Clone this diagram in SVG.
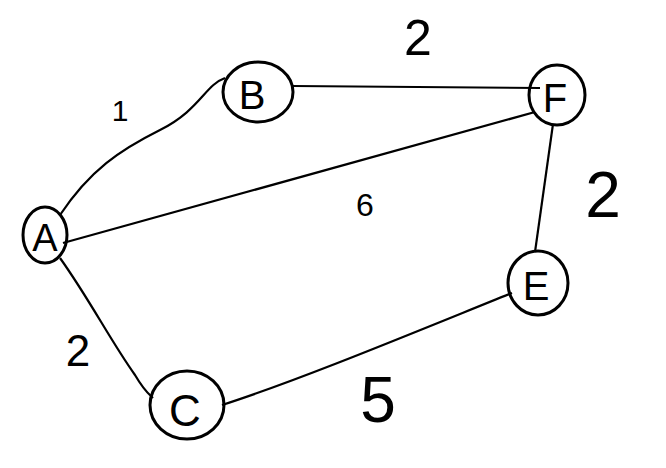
<svg xmlns="http://www.w3.org/2000/svg" width="666" height="468" viewBox="0 0 666 468">
<style>
.n{fill:none;stroke:#000;stroke-width:3}
.e{fill:none;stroke:#000;stroke-width:2.2}
text{font-family:"Liberation Sans",sans-serif;fill:#000;text-anchor:middle;dominant-baseline:central}
</style>
<rect width="666" height="468" fill="#fff"/>
<g id="edges">
<path class="e" d="M293,86 L540,88"/>
<path class="e" d="M63,243 L535,112"/>
<path class="e" d="M553,124 L535,252"/>
<path class="e" d="M60,215 C90,170 120,150 160,130 C200,110 205,85 225,78"/>
<path class="e" d="M60,258 C90,300 110,340 135,375 C145,392 150,395 153,398"/>
<path class="e" d="M222,405 C300,380 420,330 512,293"/>
</g>
<g id="A"><ellipse class="n" cx="45" cy="235" rx="22" ry="28"/><text x="45" y="238" font-size="38">A</text></g>
<g id="B"><ellipse class="n" cx="258" cy="92" rx="35" ry="30"/><text x="252" y="95" font-size="40">B</text></g>
<g id="F"><ellipse class="n" cx="557" cy="95" rx="28" ry="30"/><text x="555" y="98" font-size="40">F</text></g>
<g id="E"><ellipse class="n" cx="538" cy="283" rx="30" ry="32"/><text x="536" y="286" font-size="40">E</text></g>
<g id="C"><ellipse class="n" cx="187" cy="405" rx="37" ry="34"/><text x="185" y="410" font-size="44">C</text></g>
<g id="labels">
<text x="120" y="110" font-size="30">1</text>
<text x="418" y="38" font-size="50">2</text>
<text x="365" y="205" font-size="32">6</text>
<text x="603" y="195" font-size="64">2</text>
<text x="78" y="350" font-size="44">2</text>
<text x="378" y="400" font-size="64">5</text>
</g>
</svg>
